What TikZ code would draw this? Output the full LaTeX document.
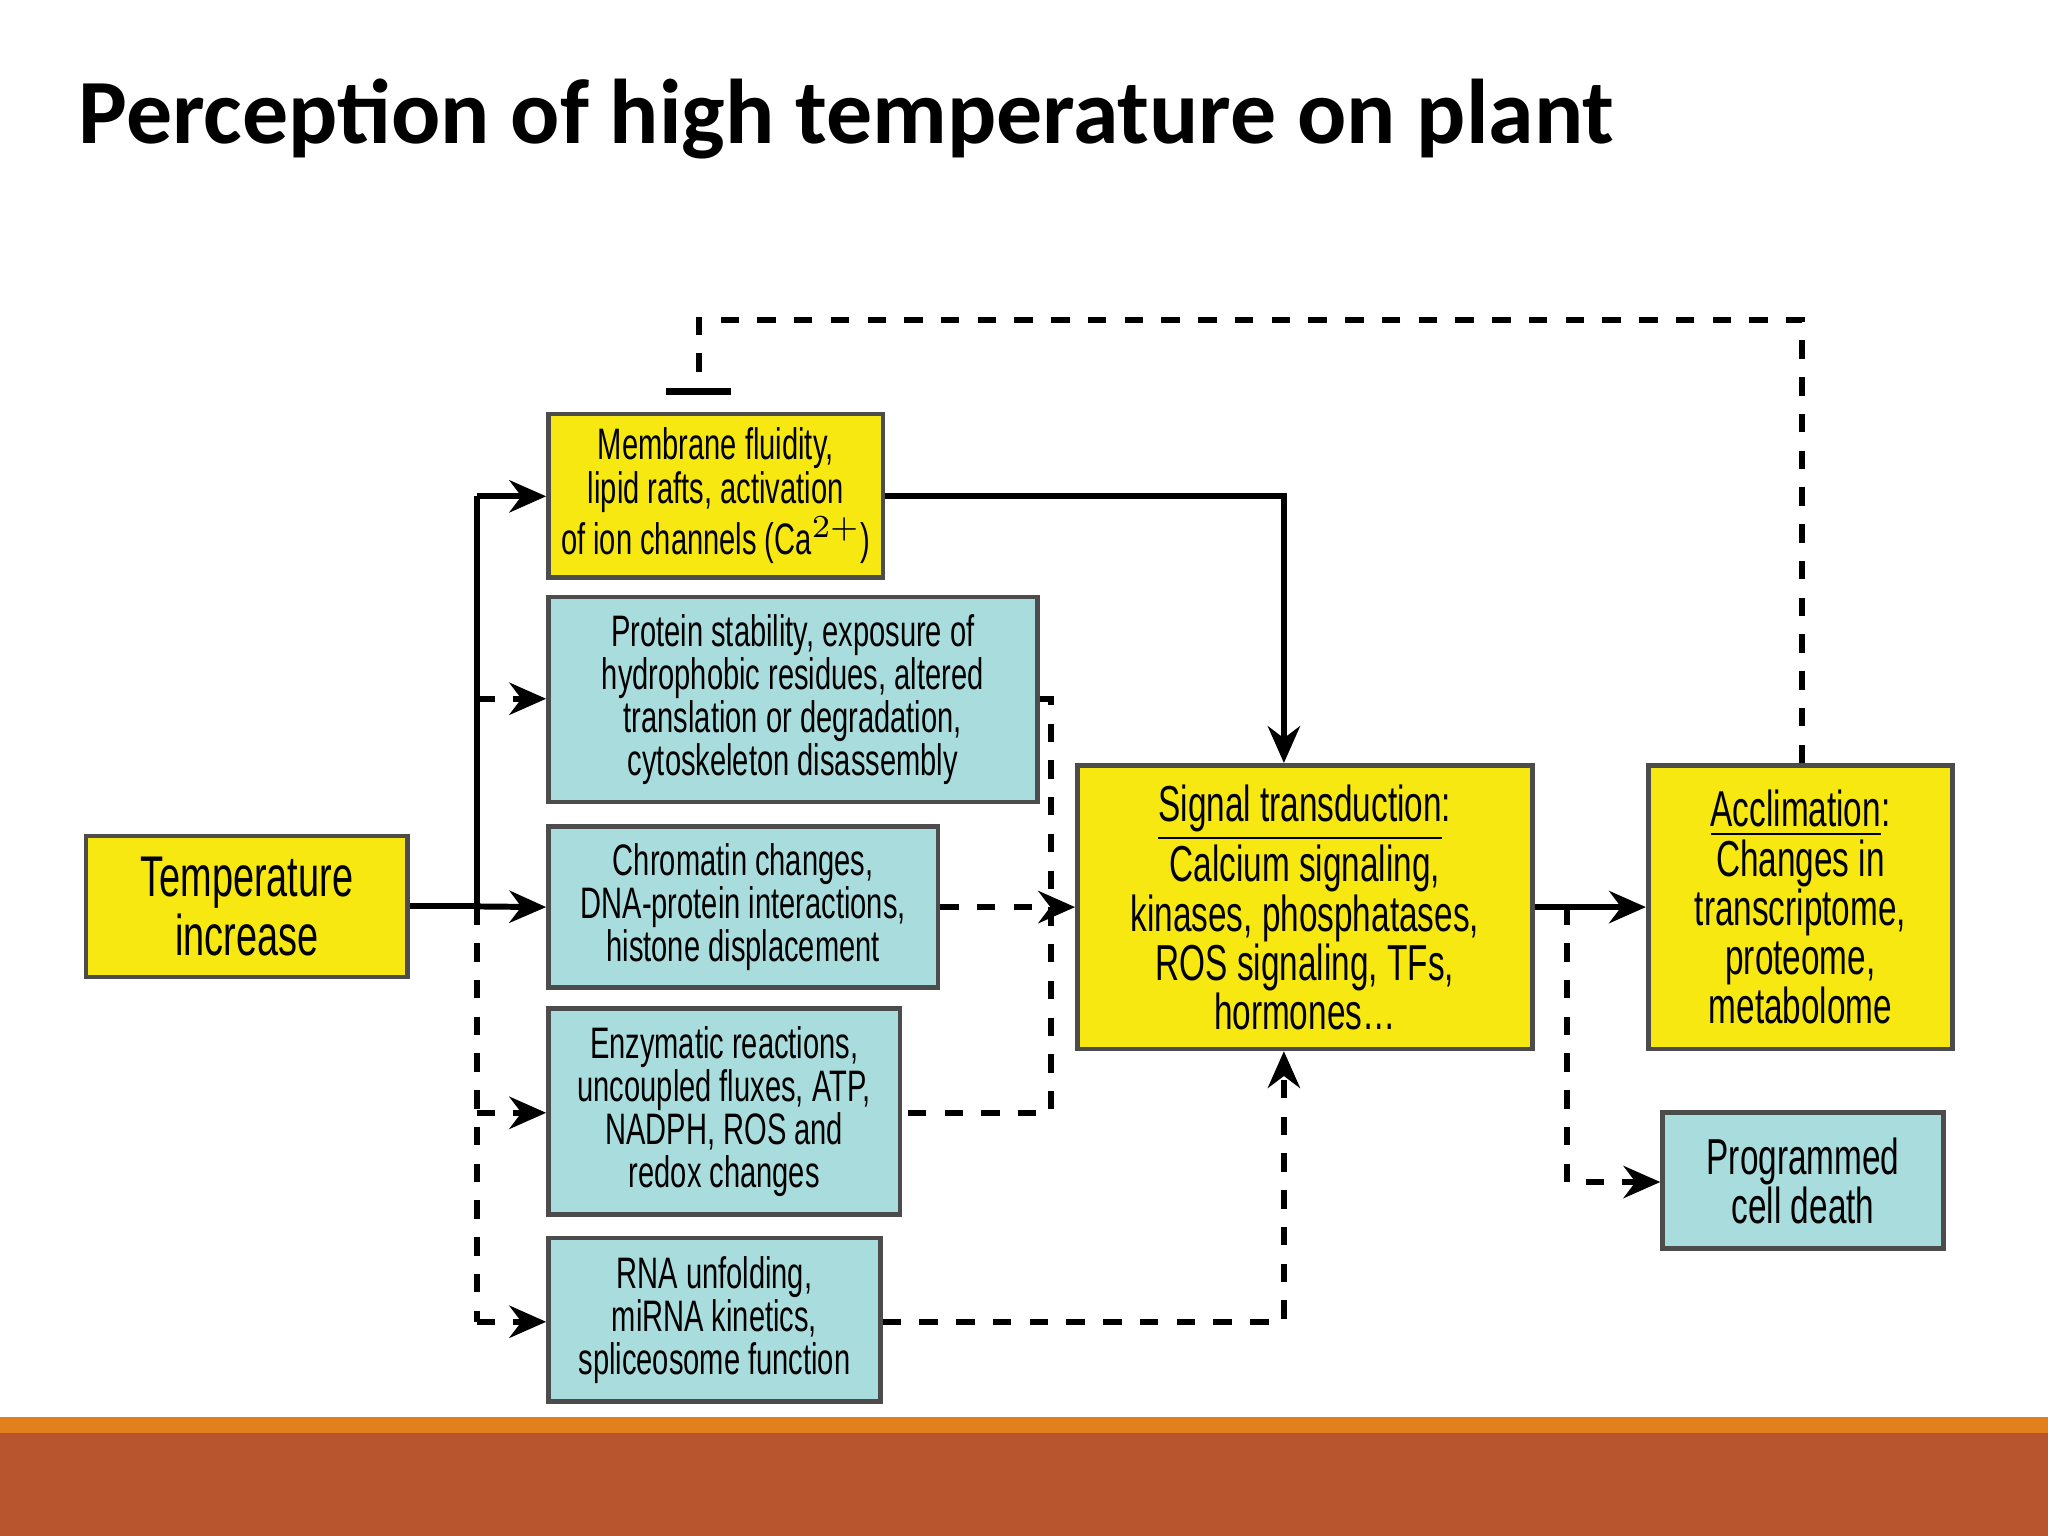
\documentclass[tikz,border=0pt]{standalone}
\usepackage{fontspec}
\setmainfont{Liberation Sans}
\newfontfamily\titlefont{Carlito}
\newfontfamily\boxfont[FakeStretch=0.66]{Liberation Sans}
\usetikzlibrary{arrows.meta}
\definecolor{boxyellow}{HTML}{F7E812}
\definecolor{boxcyan}{HTML}{A9DCDD}
\definecolor{barorange}{HTML}{E2801E}
\definecolor{barred}{HTML}{B9552E}

\begin{document}
\begin{tikzpicture}[%
      x=0.01cm, y=-0.01cm,
      box/.style={draw=black!70, line width=1pt, align=center, inner sep=0pt,
        font=\boxfont\fontsize{9.6}{9.4}\selectfont},
      ybox/.style={box, fill=boxyellow},
      cbox/.style={box, fill=boxcyan},
      link/.style={line width=1.3pt, -{Stealth[length=8pt,width=7pt]}},
      dlink/.style={link, dash pattern=on 4pt off 4pt},
      ]
      \useasboundingbox (0,0) rectangle (1568,1176);
      \fill[barorange] (0,1085) rectangle (1568,1097);
      \fill[barred] (0,1097) rectangle (1568,1176);
      \node[anchor=base west, font=\titlefont\fontsize{20}{24}\bfseries\selectfont] (title) at (48,110) {Perception of high temperature on plant};

      % boxes
      \node[ybox, minimum width=2.46cm, minimum height=1.08cm, font=\boxfont\fontsize{12.5}{13}\selectfont] (temp) at (189,694) {Temperature\\increase};
      \node[ybox, minimum width=2.56cm, minimum height=1.25cm] (memb) at (548,379.5) {Membrane fluidity,\\lipid rafts, activation\\of ion channels (Ca$^{2+}$)};
      \node[cbox, minimum width=3.74cm, minimum height=1.57cm] (prot) at (607,535.5) {Protein stability, exposure of\\hydrophobic residues, altered\\translation or degradation,\\cytoskeleton disassembly};
      \node[cbox, minimum width=2.98cm, minimum height=1.23cm] (chrom) at (569,694.5) {Chromatin changes,\\DNA-protein interactions,\\histone displacement};
      \node[cbox, minimum width=2.69cm, minimum height=1.58cm] (enz) at (554.5,851) {Enzymatic reactions,\\uncoupled fluxes, ATP,\\NADPH, ROS and\\redox changes};
      \node[cbox, minimum width=2.54cm, minimum height=1.25cm] (rna) at (547,1010.5) {RNA unfolding,\\miRNA kinetics,\\spliceosome function};
      \node[ybox, minimum width=3.48cm, minimum height=2.17cm, font=\boxfont\fontsize{11}{10.7}\selectfont] (sig) at (999,694.5) {\underline{Signal transduction}:\\Calcium signaling,\\kinases, phosphatases,\\ROS signaling, TFs,\\hormones\ldots};
      \node[ybox, minimum width=2.33cm, minimum height=2.17cm, font=\boxfont\fontsize{11}{10.7}\selectfont] (accl) at (1378.5,694.5) {\underline{Acclimation}:\\Changes in\\transcriptome,\\proteome,\\metabolome};
      \node[cbox, minimum width=2.15cm, minimum height=1.04cm, font=\boxfont\fontsize{11}{10.7}\selectfont] (pcd) at (1380.5,904) {Programmed\\cell death};

      % trunk
      \coordinate (trunk) at (365,694);
      \draw[line width=1.3pt] (temp.east) -- (trunk);
      \draw[line width=1.3pt] (trunk) -- (365,380);
      \draw[link] (365,380) -- (memb.west |- 365,380);
      \draw[link] (trunk) -- (chrom.west);
      \draw[line width=1.3pt, dash pattern=on 4pt off 4pt] (trunk) -- (365,1012);
      \draw[dlink] (365,535) -- (prot.west |- 365,535);
      \draw[dlink] (365,852) -- (enz.west |- 365,852);
      \draw[dlink] (365,1012) -- (rna.west |- 365,1012);

      % into signal transduction
      \draw[link] (memb.east |- 0,380) -- (983,380) -- (sig.north -| 983,0);
      \draw[line width=1.3pt, dash pattern=on 4pt off 4pt] (prot.east |- 0,535) -- (805,535) -- (805,852) -- (enz.east |- 0,852);
      \draw[dlink] (chrom.east) -- (sig.west);
      \draw[dlink] (rna.east |- 0,1012) -- (983,1012) -- (sig.south -| 983,0);

      % outputs
      \draw[link] (sig.east) -- (accl.west);
      \draw[dlink] (1200,694) -- (1200,905) -- (pcd.west |- 0,905);
      \draw[line width=1.3pt, dash pattern=on 4pt off 4pt] (accl.north -| 1380,0) -- (1380,245) -- (535,245) -- (535,300);
      \draw[line width=1.5pt] (510,300) -- (560,300);
      \end{tikzpicture}
\end{document}
